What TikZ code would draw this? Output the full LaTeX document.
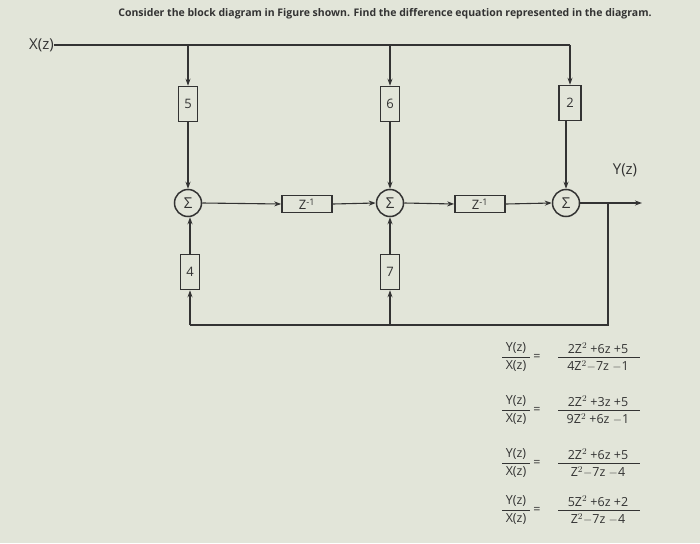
\documentclass[tikz,border=0pt]{standalone}
\usepackage{fontspec}
\setmainfont{Open Sans}
\usetikzlibrary{arrows.meta}
\definecolor{bg}{HTML}{E2E5D9}
\definecolor{ink}{HTML}{333333}
\begin{document}
\begin{tikzpicture}[x=1pt,y=-1pt,
  line/.style={draw=ink,line width=1.1pt},
  arr/.style={line,-{Stealth[length=7pt,width=5pt]}},
  gain/.style={draw=ink,line width=1.6pt,minimum width=19pt,minimum height=35pt,inner sep=0pt,font=\fontsize{13}{14}\selectfont,text=ink},
  dly/.style={draw=ink,line width=1.6pt,minimum width=50pt,minimum height=17pt,inner sep=0pt,font=\fontsize{13}{14}\selectfont,text=ink},
  sum/.style={circle,draw=ink,line width=1.5pt,minimum size=27pt,inner sep=0pt,font=\fontsize{15}{16}\selectfont,text=ink},
  lbl/.style={font=\fontsize{15}{16}\selectfont,text=ink,inner sep=0pt},
  eq/.style={font=\fontsize{12.5}{14}\selectfont,text=ink,inner sep=0pt}]
\fill[bg] (0,0) rectangle (700,543);
\useasboundingbox (0,0) rectangle (700,543);
\node[font=\fontsize{10.5}{12}\selectfont\bfseries,text=ink] (title) at (385,14) {Consider the block diagram in Figure shown. Find the difference equation represented in the diagram.};
\node[lbl,anchor=east] (x) at (54,45) {X(z)};
\coordinate (t1) at (188,45); \coordinate (t2) at (390,45); \coordinate (t3) at (570,45);
\node[gain] (g5) at (188,104) {5};
\node[gain] (g6) at (390,104) {6};
\node[gain,minimum width=22pt] (g2) at (570,103) {2};
\node[sum] (s1) at (188,203) {Σ};
\node[sum] (s2) at (390,203) {Σ};
\node[sum] (s3) at (566,203) {Σ};
\node[dly] (d1) at (307,204) {Z\textsuperscript{-1}};
\node[dly] (d2) at (480,204) {Z\textsuperscript{-1}};
\node[gain] (g4) at (190,272) {4};
\node[gain] (g7) at (390,272) {7};
\node[lbl] (y) at (625,170) {Y(z)};
\coordinate (yo) at (642,203); \coordinate (br) at (608,203);
\coordinate (b1) at (608,325); \coordinate (b2) at (190,325); \coordinate (b3) at (390,325);
\draw[line] (x.east) -- (t3);
\draw[arr] (t1) -- (g5.north);
\draw[arr] (t2) -- (g6.north);
\draw[arr] (t3) -- (g2.north);
\draw[arr] (g5.south) -- (s1.north);
\draw[arr] (g6.south) -- (s2.north);
\draw[arr] (g2.south-|s3) -- (s3.north);
\draw[arr] (s1.east) -- (d1.west);
\draw[arr] (d1.east) -- (s2.west);
\draw[arr] (s2.east) -- (d2.west);
\draw[arr] (d2.east) -- (s3.west);
\draw[arr] (s3.east) -- (yo);
\draw[line] (br) -- (b1) -- (b2);
\draw[arr] (b2) -- (g4.south);
\draw[arr] (b3) -- (g7.south);
\draw[arr] (g4.north) -- (g4.north|-s1.south);
\draw[arr] (g7.north) -- (s2.south);
\foreach \i/\yy/\num/\den in {1/357/{2Z$^2$ +6z +5}/{4Z$^2$$-$7z $-$1},2/410/{2Z$^2$ +3z +5}/{9Z$^2$ +6z $-$1},3/463/{2Z$^2$ +6z +5}/{Z$^2$$-$7z $-$4},4/510/{5Z$^2$ +6z +2}/{Z$^2$$-$7z $-$4}}{
  \node[eq] (n\i) at (516,\yy-9) {Y(z)};
  \node[eq] (m\i) at (516,\yy+9) {X(z)};
  \draw[line,line width=0.5pt] (502,\yy) -- (530,\yy);
  \node[eq] (e\i) at (537,\yy) {=};
  \node[eq] (p\i) at (598,\yy-9) {\num};
  \node[eq] (q\i) at (598,\yy+9) {\den};
  \draw[line,line width=0.5pt] (558,\yy) -- (640,\yy);
}
\end{tikzpicture}
\end{document}
